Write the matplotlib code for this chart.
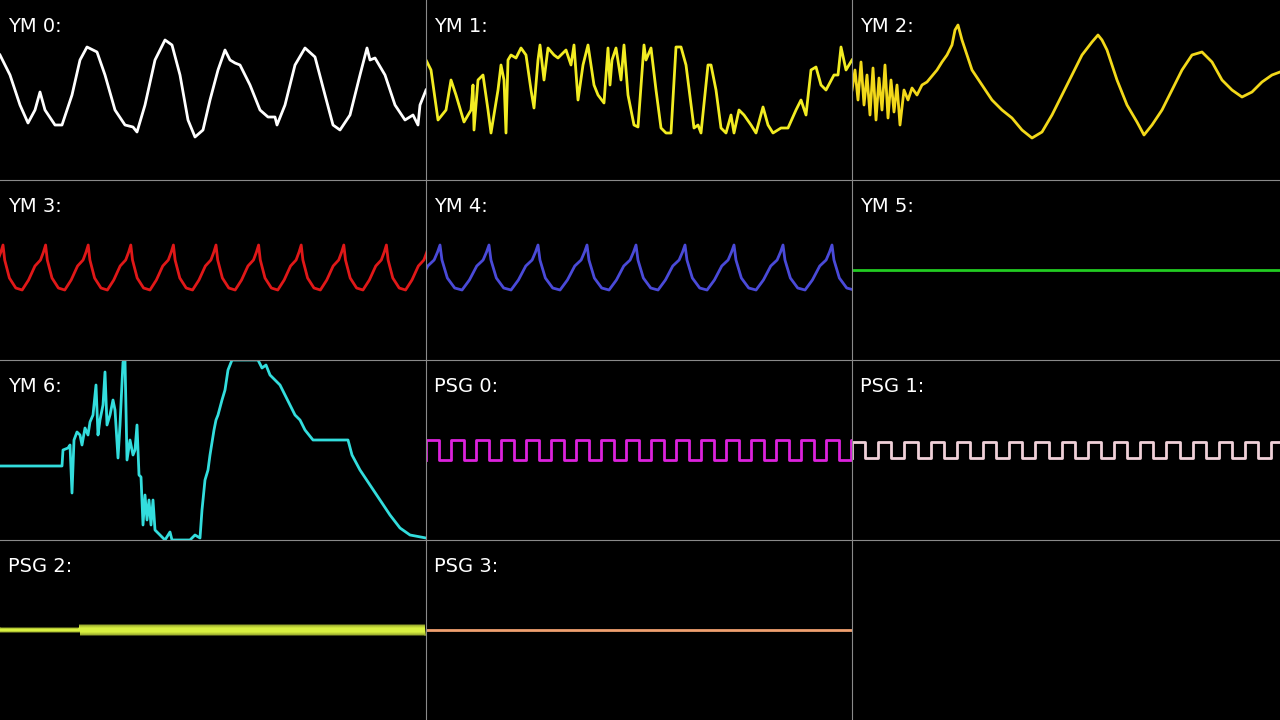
import numpy as np
import matplotlib
matplotlib.use("Agg")
import matplotlib.pyplot as plt
from matplotlib.lines import Line2D

# ---- data: traced waveform points (x in px within panel, y in px from panel top) ----
ym0 = [(0,55),(10,75),(20,105),(28,123),(35,110),(40,92),(45,110),(55,125),(62,125),(72,95),(80,60),(87,47),(97,52),(105,75),(115,110),(125,125),(133,127),(137,132),(145,105),(155,60),(165,40),(172,45),(180,75),(188,120),(195,137),(203,130),(210,100),(218,70),(225,50),(230,60),(235,63),(240,65),(250,85),(260,110),(268,117),(275,117),(277,125),(285,105),(295,65),(305,48),(315,57),(325,95),(333,125),(340,130),(350,115),(360,75),(367,48),(370,60),(375,58),(385,75),(395,105),(405,120),(413,115),(418,125),(420,105),(426,90)]
ym1 = [(0,60),(5,70),(12,120),(20,110),(25,80),(30,95),(38,122),(45,110),(47,85),(48,130),(52,80),(57,75),(62,110),(65,133),(72,90),(75,65),(78,80),(80,133),(82,60),(85,55),(90,58),(95,48),(100,55),(105,90),(108,108),(112,60),(114,45),(118,80),(122,48),(128,55),(132,58),(140,50),(145,65),(148,45),(152,100),(157,65),(162,45),(168,85),(172,95),(178,103),(182,48),(184,85),(186,60),(190,48),(195,80),(198,45),(202,95),(208,125),(212,127),(218,45),(220,60),(225,48),(230,90),(235,128),(240,133),(245,133),(250,47),(255,47),(260,65),(268,128),(272,125),(275,133),(282,65),(285,65),(290,90),(295,128),(300,133),(305,115),(308,133),(313,110),(318,115),(325,125),(330,133),(337,107),(342,125),(347,133),(355,128),(362,128),(370,110),(375,100),(380,115),(385,70),(390,67),(395,85),(400,90),(408,75),(412,75),(415,47),(420,70),(426,60)]
ym2 = [(0,90),(3,70),(6,100),(9,62),(12,105),(15,75),(18,115),(21,68),(24,120),(27,78),(30,110),(33,65),(36,118),(39,80),(42,112),(45,85),(48,125),(52,90),(56,100),(60,88),(65,95),(70,85),(75,82),(80,76),(85,70),(90,62),(95,55),(100,45),(103,30),(106,25),(110,40),(115,55),(120,70),(130,85),(140,100),(150,110),(160,118),(170,130),(180,138),(190,132),(200,115),(210,95),(220,75),(230,55),(240,42),(246,35),(250,40),(255,50),(265,80),(275,105),(285,122),(292,135),(300,125),(310,110),(320,90),(330,70),(340,55),(350,52),(360,62),(370,80),(380,90),(390,97),(400,92),(410,82),(420,75),(428,72)]
ym6 = [(0,106),(62,106),(63,90),(68,88),(70,85),(72,133),(74,80),(77,72),(80,75),(82,85),(85,68),(88,75),(90,62),(93,55),(96,25),(98,75),(100,60),(103,45),(105,12),(107,65),(110,55),(113,40),(115,50),(118,98),(120,65),(123,2),(125,0),(127,100),(130,80),(133,95),(135,90),(137,65),(139,115),(141,117),(143,165),(145,135),(147,160),(149,140),(151,165),(153,140),(155,170),(160,175),(165,180),(170,172),(172,180),(190,180),(195,175),(200,178),(202,150),(205,120),(208,110),(210,95),(214,70),(216,60),(218,55),(222,40),(225,30),(228,10),(232,0),(258,0),(262,8),(266,5),(270,15),(275,20),(280,25),(285,35),(290,45),(295,55),(300,60),(305,70),(313,80),(348,80),(352,95),(360,110),(370,125),(380,140),(390,155),(400,168),(410,175),(426,178)]
# one traced period (phase 0..1, y) for the periodic channels
ym3_period = [(0,65),(0.04,80),(0.15,98),(0.3,108),(0.45,110),(0.6,100),(0.75,86),(0.88,80),(0.95,72),(1.0,65)]
ym3_info = (3, 42.6)        # first peak x, period px
ym4_info = (14, 49.0)
psg_sq0 = (80, 100, 25.0)   # high y, low y, period
psg_sq1 = (82, 98, 26.2)
psg2_pattern = [(88,92),(85,95)]  # narrow / wide noise band (px)
flat_ym5 = 90
flat_psg3 = 90

labels = ["YM 0:", "YM 1:", "YM 2:", "YM 3:", "YM 4:", "YM 5:", "YM 6:",
          "PSG 0:", "PSG 1:", "PSG 2:", "PSG 3:"]
colors = ["#ffffff", "#f2ec22", "#f2d81a", "#e01818", "#4a4ad8", "#22cc22",
          "#33dddd", "#dd22dd", "#f0d0d8", "#d8f040", "#f0a070"]

W, H = 1280, 720
cols = [(0, 426), (426, 426), (852, 428)]
fig = plt.figure(figsize=(12.8, 7.2), dpi=100, facecolor="black")

def periodic(period_pts, x0, per, width):
    xs, ys = [], []
    k = -1
    while x0 + k * per < width + per:
        for ph, y in period_pts:
            xs.append(x0 + (k + ph) * per); ys.append(y)
        k += 1
    return xs, ys

def square(hi, lo, per, width):
    xs, ys = [], []
    x = 0.0
    while x < width + per:
        xs += [x, x, x + per/2, x + per/2]; ys += [lo, hi, hi, lo]
        x += per
    return xs, ys

def noise(width):
    xs, ys = [], []
    x = 0.0
    while x < width:
        band = psg2_pattern[0] if x < 80 else psg2_pattern[1]
        xs += [x, x + 1]; ys += [band[0], band[1]]
        x += 2
    return xs, ys

for i, lab in enumerate(labels):
    r, c = divmod(i, 3)
    x0, w = cols[c]
    ax = fig.add_axes([x0 / W, 1 - (r + 1) * 180 / H, w / W, 180 / H])
    ax.set_facecolor("black")
    ax.set_xlim(0, w); ax.set_ylim(180, 0); ax.axis("off")
    if lab == "YM 0:": xs, ys = zip(*ym0)
    elif lab == "YM 1:": xs, ys = zip(*ym1)
    elif lab == "YM 2:": xs, ys = zip(*ym2)
    elif lab == "YM 6:": xs, ys = zip(*ym6)
    elif lab == "YM 3:": xs, ys = periodic(ym3_period, *ym3_info, w)
    elif lab == "YM 4:": xs, ys = periodic(ym3_period, *ym4_info, w)
    elif lab == "YM 5:": xs, ys = [0, w], [flat_ym5] * 2
    elif lab == "PSG 3:": xs, ys = [0, w], [flat_psg3] * 2
    elif lab == "PSG 0:": xs, ys = square(*psg_sq0, w)
    elif lab == "PSG 1:": xs, ys = square(*psg_sq1, w)
    else: xs, ys = noise(w)
    ax.plot(xs, ys, color=colors[i], lw=2.0 if lab != "PSG 2:" else 1.0, clip_on=True)
    ax.text(8, 27, lab, color="white", fontsize=14, va="center", ha="left",
            family="DejaVu Sans")

gc = "#8a8a8a"
for x in (426, 852):
    fig.add_artist(Line2D([x / W, x / W], [0, 1], color=gc, lw=0.8))
for y in (180, 360, 540):
    fig.add_artist(Line2D([0, 1], [1 - y / H] * 2, color=gc, lw=0.8))

fig.savefig("out.png", dpi=100, facecolor="black")
